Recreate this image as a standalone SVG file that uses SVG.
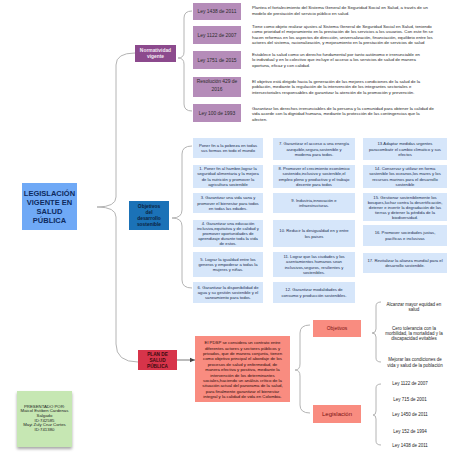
<svg xmlns="http://www.w3.org/2000/svg" width="474" height="462" viewBox="0 0 474 462">
<defs>
<filter id="sh" x="-20%" y="-20%" width="140%" height="150%"><feGaussianBlur in="SourceAlpha" stdDeviation="1.5"/><feOffset dy="2"/><feComponentTransfer><feFuncA type="linear" slope="0.35"/></feComponentTransfer><feMerge><feMergeNode/><feMergeNode in="SourceGraphic"/></feMerge></filter>
<marker id="arr" markerWidth="6" markerHeight="6" refX="5" refY="3" orient="auto" markerUnits="userSpaceOnUse"><path d="M0,0.8 L5,3 L0,5.2 z" fill="#444"/></marker>
</defs>
<style>
text{font-family:"Liberation Sans",Arial,sans-serif;}
.brace{fill:none;stroke:#b4b4b4;stroke-width:1;}
.law{fill:#b58cb9;}
.lawt{font-size:4.9px;fill:#2b2b2b;text-anchor:middle;}
.desc{font-size:4.3px;fill:#1e1e1e;}
.ods{fill:#d6e6fa;}
.odst{font-size:4.2px;fill:#1b2d4f;text-anchor:middle;}
.sal{fill:#f98c80;}
.lst{font-size:4.5px;fill:#1e1e1e;text-anchor:middle;}
</style>
<rect width="474" height="462" fill="#ffffff"/>

<g id="connectors">
<path class="brace" d="M135,53 Q116,53 116,65 L116,197 Q116,207 97,207 Q116,207 116,217 L116,344 Q116,362 138,362"/>
<path class="brace" d="M192,11 Q184,11 184,18 L184,52 Q184,58 178,58 Q184,58 184,64 L184,104 Q184,111 192,111"/>
<path class="brace" d="M192,146 Q182,146 182,154 L182,210 Q182,218 172,218 Q182,218 182,226 L182,280 Q182,288 192,288"/>
<path class="brace" d="M310,325 Q300,325 300,333 L300,364 Q300,370 295,370 Q300,370 300,376 L300,405 Q300,413 310,413"/>
<path class="brace" d="M381,302 Q376,302 376,306 L376,329 Q376,333 372,333 Q376,333 376,337 L376,358 Q376,362 381,362"/>
<path class="brace" d="M381,384 Q376,384 376,388 L376,411 Q376,415 373,415 Q376,415 376,419 L376,441 Q376,445 381,445"/>
<line x1="177" y1="360" x2="195" y2="360" stroke="#555" stroke-width="0.8" marker-end="url(#arr)"/>
</g>

<g id="main">
<rect x="22" y="183" width="55" height="47" fill="#6fa9f6"/>
<text font-size="7.5" font-weight="bold" fill="#0d2a5e" text-anchor="middle"><tspan x="49.5" y="195.7">LEGISLACIÓN</tspan><tspan x="49.5" y="204.7">VIGENTE EN</tspan><tspan x="49.5" y="213.7">SALUD</tspan><tspan x="49.5" y="222.7">PÚBLICA</tspan></text>
</g>

<g id="normatividad">
<rect x="135" y="45" width="41" height="17" fill="#8c4a8d"/>
<text font-size="4.9" font-weight="bold" fill="#f4eaf4" text-anchor="middle"><tspan x="155.5" y="52">Normatividad</tspan><tspan x="155.5" y="58">vigente</tspan></text>
</g>

<g id="ley1438">
<rect class="law" x="193" y="3" width="48" height="17"/>
<text class="lawt" x="217" y="13.2">Ley 1438 de 2011</text>
<text class="desc"><tspan x="252" y="8.8">Plantea el fortalecimiento del Sistema General de Seguridad Social en Salud, a través de un</tspan><tspan x="252" y="15">modelo de prestación del servicio público en salud.</tspan></text>
</g>
<g id="ley1122">
<rect class="law" x="193" y="26" width="48" height="18"/>
<text class="lawt" x="217" y="36.7">Ley 1122 de 2007</text>
<text class="desc"><tspan x="252" y="27.5">Tiene como objeto realizar ajustes al Sistema General de Seguridad Social en Salud, teniendo</tspan><tspan x="252" y="33">como prioridad el mejoramiento en la prestación de los servicios a los usuarios. Con este fin se</tspan><tspan x="252" y="38.5">hacen reformas en los aspectos de dirección, universalización, financiación, equilibrio entre los</tspan><tspan x="252" y="44">actores del sistema, racionalización, y mejoramiento en la prestación de servicios de salud</tspan></text>
</g>
<g id="ley1751">
<rect class="law" x="193" y="51" width="48" height="18"/>
<text class="lawt" x="217" y="61.7">Ley 1751 de 2015</text>
<text class="desc"><tspan x="252" y="55.5">Establece la salud como un derecho fundamental por tanto autónomo e irrenunciable en</tspan><tspan x="252" y="61">lo individual y en lo colectivo que incluye el acceso a los servicios de salud de manera</tspan><tspan x="252" y="66.5">oportuna, eficaz y con calidad.</tspan></text>
</g>
<g id="res429">
<rect class="law" x="193" y="77" width="48" height="20"/>
<text class="lawt"><tspan x="217" y="83.2">Resolución 429 de</tspan><tspan x="217" y="91.2">2016</tspan></text>
<text class="desc"><tspan x="252" y="82.5">El objetivo está dirigido hacia la generación de las mejores condiciones de la salud de la</tspan><tspan x="252" y="88">población, mediante la regulación de la intervención de los integrantes sectoriales e</tspan><tspan x="252" y="93.5">intersectoriales responsables de garantizar la atención de la promoción y prevención.</tspan></text>
</g>
<g id="ley100">
<rect class="law" x="193" y="104" width="48" height="18"/>
<text class="lawt" x="217" y="114.7">Ley 100 de 1993</text>
<text class="desc"><tspan x="252" y="109.5">Garantizar los derechos irrenunciables de la persona y la comunidad para obtener la calidad de</tspan><tspan x="252" y="115">vida acorde con la dignidad humana, mediante la protección de las contingencias que la</tspan><tspan x="252" y="120.5">afecten.</tspan></text>
</g>

<g id="ods">
<rect x="129" y="201" width="40" height="29" fill="#1b72b7"/>
<text font-size="4.9" font-weight="bold" fill="#0b2240" text-anchor="middle"><tspan x="149" y="208.3">Objetivos</tspan><tspan x="149" y="214.3">del</tspan><tspan x="149" y="220.3">desarrollo</tspan><tspan x="149" y="226.3">sostenible</tspan></text>
</g>

<g id="ods-c1r0"><rect class="ods" x="193" y="138" width="70" height="20"/><text class="odst"><tspan x="228" y="146.9">Poner fin a la pobreza en todas</tspan><tspan x="228" y="152.1">sus formas en todo el mundo</tspan></text></g>
<g id="ods-c1r1"><rect class="ods" x="193" y="165" width="70" height="23"/><text class="odst"><tspan x="228" y="170.2">1. Poner fin al hambre,lograr la</tspan><tspan x="228" y="175.4">seguridad alimentaria y la mejora</tspan><tspan x="228" y="180.6">de la nutrición y promover la</tspan><tspan x="228" y="185.8">agricultura sostenible</tspan></text></g>
<g id="ods-c1r2"><rect class="ods" x="193" y="193" width="70" height="20"/><text class="odst"><tspan x="228" y="199.3">3. Garantizar una vida sana y</tspan><tspan x="228" y="204.5">promover el bienestar para todos</tspan><tspan x="228" y="209.7">en todas las edades.</tspan></text></g>
<g id="ods-c1r3"><rect class="ods" x="193" y="220" width="70" height="27"/><text class="odst"><tspan x="228" y="224.6">4. Garantizar una educación</tspan><tspan x="228" y="229.8">inclusiva,equitativa y de calidad y</tspan><tspan x="228" y="235">promover oportunidades de</tspan><tspan x="228" y="240.2">aprendizaje durante toda la vida</tspan><tspan x="228" y="245.4">de estos.</tspan></text></g>
<g id="ods-c1r4"><rect class="ods" x="193" y="252" width="70" height="25"/><text class="odst"><tspan x="228" y="260.8">5. Lograr la igualdad entre los</tspan><tspan x="228" y="266">generos y empoderar a todas la</tspan><tspan x="228" y="271.2">mujeres y niñas.</tspan></text></g>
<g id="ods-c1r5"><rect class="ods" x="193" y="282" width="70" height="21"/><text class="odst"><tspan x="228" y="288.8">6. Garantizar la disponibilidad de</tspan><tspan x="228" y="294">agua y su gestión sostenible y el</tspan><tspan x="228" y="299.2">saneamiento para todos.</tspan></text></g>

<g id="ods-c2r0"><rect class="ods" x="273" y="138" width="82" height="22"/><text class="odst"><tspan x="314" y="145.3">7. Garantizar el acceso a una energía</tspan><tspan x="314" y="150.5">asequible,segura,sostenible y</tspan><tspan x="314" y="155.7">moderna para todos.</tspan></text></g>
<g id="ods-c2r1"><rect class="ods" x="273" y="165" width="82" height="23"/><text class="odst"><tspan x="314" y="170.2">8. Promover el crecimiento económico</tspan><tspan x="314" y="175.4">sostenido,inclusivo y sostenible,el</tspan><tspan x="314" y="180.6">empleo pleno y productivo y el trabajo</tspan><tspan x="314" y="185.8">decente para todos</tspan></text></g>
<g id="ods-c2r2"><rect class="ods" x="273" y="193" width="82" height="20"/><text class="odst"><tspan x="314" y="201.9">9. Industria,innovación e</tspan><tspan x="314" y="207.1">infraestructuras.</tspan></text></g>
<g id="ods-c2r3"><rect class="ods" x="273" y="220" width="82" height="27"/><text class="odst"><tspan x="314" y="232.4">10. Reducir la desigualdad en y entre</tspan><tspan x="314" y="237.6">los paises</tspan></text></g>
<g id="ods-c2r4"><rect class="ods" x="273" y="252" width="82" height="25"/><text class="odst"><tspan x="314" y="258.2">11. Lograr que las ciudades y los</tspan><tspan x="314" y="263.4">asentamientos humanos sean</tspan><tspan x="314" y="268.6">inclusivos,seguros, resilientes y</tspan><tspan x="314" y="273.8">sostenibles.</tspan></text></g>
<g id="ods-c2r5"><rect class="ods" x="273" y="282" width="82" height="21"/><text class="odst"><tspan x="314" y="291.4">12. Garantizar modalidades de</tspan><tspan x="314" y="296.6">consumo y producción sostenibles.</tspan></text></g>

<g id="ods-c3r0"><rect class="ods" x="363" y="138" width="84" height="22"/><text class="odst"><tspan x="405" y="145.3">13.Adaptar medidas urgentes</tspan><tspan x="405" y="150.5">paracombatir el cambio climatico y sus</tspan><tspan x="405" y="155.7">efectos</tspan></text></g>
<g id="ods-c3r1"><rect class="ods" x="363" y="165" width="84" height="23"/><text class="odst"><tspan x="405" y="170.2">14. Conservar y utilizar en forma</tspan><tspan x="405" y="175.4">sostenible los oceanos,los mares y los</tspan><tspan x="405" y="180.6">recursos marinos para el desarrollo</tspan><tspan x="405" y="185.8">sostenible</tspan></text></g>
<g id="ods-c3r2"><rect class="ods" x="363" y="193" width="84" height="28"/><text class="odst"><tspan x="405" y="198.6">15. Gestionar sosteniblemente los</tspan><tspan x="405" y="203.8">bosques,luchar contra la desertificación,</tspan><tspan x="405" y="209">detener e invertir la degradación de las</tspan><tspan x="405" y="214.2">tierras y detener la pérdida de la</tspan><tspan x="405" y="219.4">biodiversidad.</tspan></text></g>
<g id="ods-c3r3"><rect class="ods" x="363" y="225" width="84" height="21"/><text class="odst"><tspan x="405" y="234.4">16. Promover sociedades justas,</tspan><tspan x="405" y="239.6">pacíficas e inclusivas</tspan></text></g>
<g id="ods-c3r4"><rect class="ods" x="363" y="253" width="84" height="20"/><text class="odst"><tspan x="405" y="261.9">17. Revitalizar la alianza mundial para el</tspan><tspan x="405" y="267.1">desarrollo sostenible.</tspan></text></g>

<g id="plan">
<rect x="138" y="350" width="39" height="20" fill="#d7344a"/>
<text font-size="4.7" font-weight="bold" fill="#3a0a0e" text-anchor="middle"><tspan x="157.5" y="355.7">PLAN DE</tspan><tspan x="157.5" y="361.7">SALUD</tspan><tspan x="157.5" y="367.7">PÚBLICA</tspan></text>
</g>

<g id="pdsp">
<rect class="sal" x="195" y="336" width="95" height="66"/>
<text font-size="4.3" fill="#2a0a0a" text-anchor="middle"><tspan x="242.5" y="344.2">El PDSP se considera un contrato entre</tspan><tspan x="242.5" y="349.6">diferentes actores y sectores públicos y</tspan><tspan x="242.5" y="355">privados, que de manera conjunta, tienen</tspan><tspan x="242.5" y="360.4">como objetivo principal el abordaje de los</tspan><tspan x="242.5" y="365.8">procesos de salud y enfermedad, de</tspan><tspan x="242.5" y="371.2">manera efectiva y positiva, mediante la</tspan><tspan x="242.5" y="376.6">intervención de los determinantes</tspan><tspan x="242.5" y="382">sociales,haciendo un análisis crítico de la</tspan><tspan x="242.5" y="387.4">situación actual del panorama de la salud,</tspan><tspan x="242.5" y="392.8">para finalmente garantizar el bienestar</tspan><tspan x="242.5" y="398.2">integral y la calidad de vida en Colombia.</tspan></text>
</g>

<g id="objetivos">
<rect class="sal" x="313" y="320" width="48" height="17"/>
<text font-size="4.9" fill="#7a1212" text-anchor="middle" x="337" y="330.3">Objetivos</text>
</g>
<g id="legislacion">
<rect class="sal" x="313" y="405" width="48" height="18"/>
<text font-size="6" fill="#7a1212" text-anchor="middle" x="337" y="416.2">Legislación</text>
</g>

<g id="obj1"><text class="lst"><tspan x="414" y="305.5">Alcanzar mayor equidad en</tspan><tspan x="414" y="310.8">salud</tspan></text></g>
<g id="obj2"><text class="lst"><tspan x="414" y="329.9">Cero tolerancia con la</tspan><tspan x="414" y="335">morbilidad, la mortalidad y la</tspan><tspan x="414" y="340.1">discapacidad evitables</tspan></text></g>
<g id="obj3"><text class="lst"><tspan x="415" y="361">Mejorar las condiciones de</tspan><tspan x="415" y="366.5">vida y salud de la población</tspan></text></g>

<g id="leg1"><text class="lst" x="410" y="384.8">Ley 1122 de 2007</text></g>
<g id="leg2"><text class="lst" x="410" y="400.6">Ley 715 de 2001</text></g>
<g id="leg3"><text class="lst" x="410" y="415.9">Ley 1450 de 2011</text></g>
<g id="leg4"><text class="lst" x="410" y="433.3">Ley 152 de 1994</text></g>
<g id="leg5"><text class="lst" x="410" y="447.3">Ley 1438 de 2011</text></g>

<g id="presentado">
<rect x="17" y="391" width="55" height="56" fill="#c6e7b3" filter="url(#sh)"/>
<text font-size="4.3" fill="#1e1e1e" text-anchor="middle"><tspan x="44.5" y="407.5">PRESENTADO POR:</tspan><tspan x="44.5" y="412.2">Maicol Estiben Cardenas</tspan><tspan x="44.5" y="416.9">Salgado</tspan><tspan x="44.5" y="421.6">ID:742585</tspan><tspan x="44.5" y="426.3">Mayi Zuly Cruz Cortes</tspan><tspan x="44.5" y="431">ID:741380</tspan></text>
</g>
</svg>
